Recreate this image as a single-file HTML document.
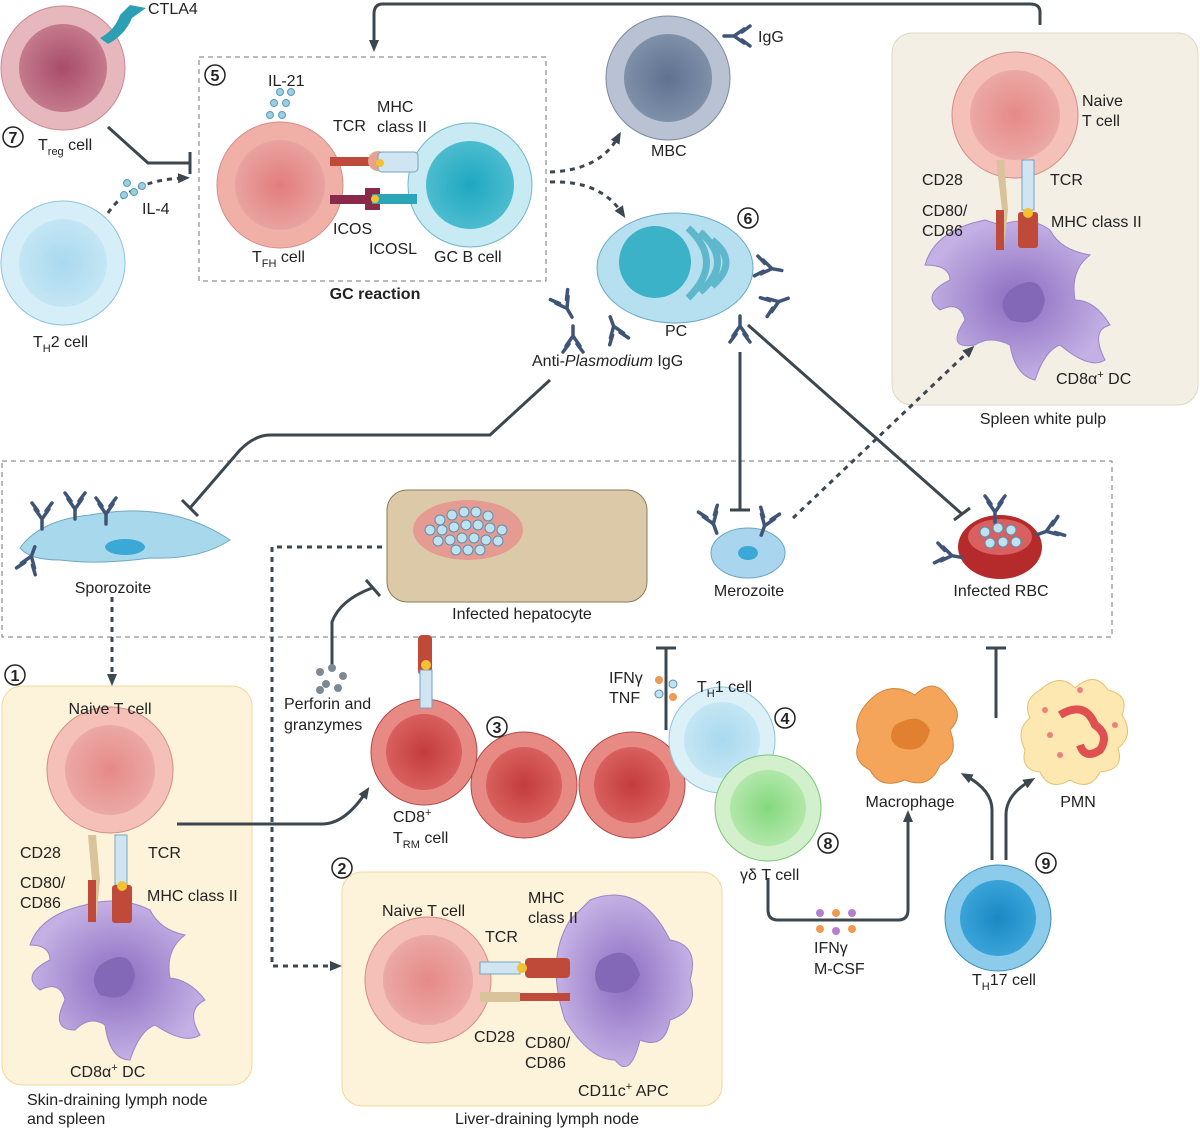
<!DOCTYPE html>
<html><head><meta charset="utf-8"><style>
html,body{margin:0;padding:0;background:#fff}
svg{display:block}
text{font-family:"Liberation Sans",sans-serif;font-size:16px;fill:#222}
.b{font-weight:bold}
.ln{stroke:#3d4750;stroke-width:3;fill:none}
.dl{stroke:#3d4750;stroke-width:3;fill:none;stroke-dasharray:5 5}
.num{fill:#fff;stroke:#222;stroke-width:1.5}
</style></head><body>
<svg width="1200" height="1129" viewBox="0 0 1200 1129" xmlns="http://www.w3.org/2000/svg">
<defs>
<marker id="ar" markerUnits="userSpaceOnUse" markerWidth="12" markerHeight="12" refX="6" refY="6" orient="auto"><path d="M0,1 L12,6 L0,11 z" fill="#3d4750"/></marker>
<radialGradient id="pink"><stop offset="0" stop-color="#e27c7c"/><stop offset="1" stop-color="#e9a3a0"/></radialGradient>
<radialGradient id="treg"><stop offset="0" stop-color="#a84c6c"/><stop offset="1" stop-color="#c47a8c"/></radialGradient>
<radialGradient id="lb"><stop offset="0" stop-color="#a9d9ee"/><stop offset="1" stop-color="#c4e6f4"/></radialGradient>
<radialGradient id="teal"><stop offset="0" stop-color="#1ea8c0"/><stop offset="1" stop-color="#4cbccf"/></radialGradient>
<radialGradient id="gray"><stop offset="0" stop-color="#5e7190"/><stop offset="1" stop-color="#7f90a8"/></radialGradient>
<radialGradient id="red"><stop offset="0" stop-color="#c43c3c"/><stop offset="1" stop-color="#d8605e"/></radialGradient>
<radialGradient id="grn"><stop offset="0" stop-color="#84d87e"/><stop offset="1" stop-color="#b2e8aa"/></radialGradient>
<radialGradient id="blu"><stop offset="0" stop-color="#1a88c4"/><stop offset="1" stop-color="#3aa4d8"/></radialGradient>
<radialGradient id="pur" cx="50%" cy="50%" r="50%"><stop offset="0" stop-color="#8a6cc0"/><stop offset="1" stop-color="#c4b0e4"/></radialGradient>
<g id="ab"><path d="M0,14 L0,4 L-7,-6 M0,4 L7,-6 M-4,-4 L-10,-12 M4,-4 L10,-12" stroke="#3f5578" stroke-width="3.5" fill="none" stroke-linecap="round"/></g>
</defs>

<rect x="892" y="33" width="306" height="372" rx="20" fill="#f3efe5" stroke="#e0d8c6"/>
<rect x="2" y="686" width="250" height="399" rx="20" fill="#fdf3db" stroke="#f3d898"/>
<rect x="342" y="872" width="380" height="234" rx="20" fill="#fdf3db" stroke="#f3d898"/>
<rect x="199" y="57" width="347" height="224" fill="none" stroke="#777" stroke-dasharray="5 4"/>
<rect x="2" y="461" width="1110" height="176" fill="none" stroke="#777" stroke-dasharray="5 4"/>

<path class="ln" d="M1040,25 V12 Q1040,4 1030,4 H383 Q374,4 374,14 V46" marker-end="url(#ar)"/>
<path class="ln" d="M108,127 L148,163 H190 M190,152 V174"/>
<path class="dl" d="M108,213 Q130,180 184,178" marker-end="url(#ar)"/>
<path class="dl" d="M550,172 Q600,170 618,137" marker-end="url(#ar)"/>
<path class="dl" d="M550,182 Q600,180 622,213" marker-end="url(#ar)"/>
<path class="ln" d="M550,380 L490,435 H270 Q255,435 240,450 L190,508 M182,500 L198,516"/>
<path class="ln" d="M740,352 V510 M730,510 H750"/>
<path class="ln" d="M748,325 L962,514 M954,520 L970,508"/>
<path class="dl" d="M793,518 L970,350" marker-end="url(#ar)"/>
<path class="dl" d="M112,597 V680" marker-end="url(#ar)"/>
<path class="dl" d="M382,547 H272 V966 H336" marker-end="url(#ar)"/>
<path class="ln" d="M332,665 V622 Q340,600 372,588 M366,580 L380,596"/>
<path class="ln" d="M177,824 H322 Q345,824 366,792" marker-end="url(#ar)"/>
<path class="ln" d="M666,730 V648 M656,648 H676"/>
<path class="ln" d="M996,718 V648 M986,648 H1006"/>
<path class="ln" d="M768,878 V910 Q768,920 778,920 H898 Q908,920 908,910 V816" marker-end="url(#ar)"/>
<path class="ln" d="M992,860 V810 Q992,790 966,776" marker-end="url(#ar)"/>
<path class="ln" d="M1006,860 V815 Q1006,795 1030,781" marker-end="url(#ar)"/>

<circle cx="63" cy="68" r="62" fill="#e6b7bd" stroke="#c98a94"/>
<circle cx="63" cy="68" r="44" fill="url(#treg)"/>
<path d="M100,38 Q115,30 120,15 L130,5 L146,8 L132,18 Q125,35 108,44 z" fill="#2d9fb5"/>
<circle cx="63" cy="263" r="62" fill="#d6eef8" stroke="#8fc3da"/>
<circle cx="63" cy="263" r="44" fill="url(#lb)"/>
<g fill="#9ccfe2" stroke="#5a9cb6"><circle cx="127" cy="183" r="3.5"/><circle cx="134" cy="192" r="3.5"/><circle cx="124" cy="195" r="3.5"/><circle cx="142" cy="186" r="3.5"/></g>

<circle cx="280" cy="185" r="63" fill="#f0b0a8" stroke="#d58c86"/>
<circle cx="280" cy="185" r="45" fill="url(#pink)"/>
<circle cx="470" cy="185" r="62" fill="#c8eaf2" stroke="#6fb8c8"/>
<circle cx="470" cy="185" r="44" fill="url(#teal)"/>
<g fill="#9ccfe2" stroke="#5a9cb6"><circle cx="280" cy="92" r="3.5"/><circle cx="291" cy="92" r="3.5"/><circle cx="274" cy="103" r="3.5"/><circle cx="286" cy="103" r="3.5"/><circle cx="270" cy="115" r="3.5"/><circle cx="282" cy="115" r="3.5"/></g>
<rect x="330" y="157" width="45" height="9" fill="#c04a3a"/><circle cx="378" cy="161" r="10" fill="#e3a48e"/>
<rect x="378" y="152" width="40" height="20" rx="4" fill="#cfe6f2" stroke="#7aa3bc"/>
<rect x="330" y="195" width="35" height="9" fill="#8a2a4a"/><rect x="365" y="188" width="15" height="22" fill="#8a2a4a"/>
<rect x="372" y="194" width="45" height="10" fill="#2aa6b8"/>
<circle cx="380" cy="163" r="4" fill="#f2c230"/><circle cx="375" cy="199" r="4" fill="#f2c230"/>

<circle cx="668" cy="78" r="62" fill="#b8c2d2" stroke="#7b8aa0"/>
<circle cx="668" cy="78" r="44" fill="url(#gray)"/>
<use href="#ab" transform="translate(738,36) rotate(90)"/>
<ellipse cx="675" cy="268" rx="78" ry="55" fill="#b6e0ef" stroke="#6aa9c6"/>
<circle cx="655" cy="262" r="36" fill="#3bb2c8"/>
<path d="M688,228 Q725,262 688,298 M700,232 Q735,262 700,292 M712,240 Q740,262 712,286" stroke="#5fb7cc" stroke-width="7" fill="none"/>
<use href="#ab" transform="translate(768,268) rotate(-80)"/>
<use href="#ab" transform="translate(775,303) rotate(-110)"/>
<use href="#ab" transform="translate(740,330) rotate(180)"/>
<use href="#ab" transform="translate(615,330) rotate(160)"/>
<use href="#ab" transform="translate(573,340) rotate(180)"/>
<use href="#ab" transform="translate(565,305) rotate(-30)"/>

<circle cx="1015" cy="115" r="63" fill="#f4c0b8" stroke="#d58c86"/>
<circle cx="1015" cy="115" r="45" fill="url(#pink)" opacity="0.8"/>
<path d="M985,220 Q935,230 925,265 Q950,265 950,280 Q920,295 940,310 Q960,300 965,320 Q945,350 975,345 Q990,335 1010,345 Q1015,375 1035,380 Q1045,350 1060,345 Q1090,370 1105,360 Q1090,330 1110,325 Q1095,300 1075,300 Q1070,270 1090,255 Q1060,250 1050,230 Q1030,215 1000,225 z" fill="url(#pur)" stroke="#9a86c8"/>
<path d="M1010,290 Q1040,270 1045,300 Q1040,330 1010,320 Q995,305 1010,290z" fill="#8468b8"/>
<path d="M996,160 L1002,210 L996,245 L1004,245 L1008,210 L1004,160z" fill="#d8c39a"/>
<rect x="996" y="210" width="8" height="40" fill="#c04a3a"/>
<rect x="1022" y="160" width="12" height="50" fill="#cfe6f2" stroke="#7aa3bc"/>
<rect x="1018" y="212" width="20" height="36" rx="3" fill="#c04a3a"/>
<circle cx="1028" cy="213" r="5" fill="#f2c230"/>

<path d="M20,548 Q40,520 90,515 Q170,500 230,540 Q200,560 150,558 Q100,565 60,560 Q30,560 20,548z" fill="#a8d8ec" stroke="#6ea9c4"/>
<ellipse cx="125" cy="547" rx="20" ry="8" fill="#3ca8d6"/>
<use href="#ab" transform="translate(42,515)"/><use href="#ab" transform="translate(75,505)"/><use href="#ab" transform="translate(106,510)"/><use href="#ab" transform="translate(30,560) rotate(200)"/>
<rect x="387" y="490" width="260" height="112" rx="20" fill="#dcc9a8" stroke="#8a7a5a"/>
<ellipse cx="468" cy="530" rx="55" ry="30" fill="#e59a92"/>
<g fill="#bfe2f0" stroke="#5a8fb0">
<circle cx="440" cy="520" r="5"/><circle cx="452" cy="515" r="5"/><circle cx="464" cy="512" r="5"/><circle cx="476" cy="512" r="5"/><circle cx="488" cy="516" r="5"/><circle cx="430" cy="530" r="5"/><circle cx="442" cy="530" r="5"/><circle cx="454" cy="527" r="5"/><circle cx="466" cy="525" r="5"/><circle cx="478" cy="525" r="5"/><circle cx="490" cy="528" r="5"/><circle cx="502" cy="530" r="5"/><circle cx="438" cy="541" r="5"/><circle cx="450" cy="540" r="5"/><circle cx="462" cy="538" r="5"/><circle cx="474" cy="538" r="5"/><circle cx="486" cy="540" r="5"/><circle cx="498" cy="541" r="5"/><circle cx="456" cy="550" r="5"/><circle cx="468" cy="550" r="5"/><circle cx="480" cy="550" r="5"/></g>
<ellipse cx="748" cy="553" rx="37" ry="25" fill="#a9d6ee" stroke="#6aa6c6"/>
<ellipse cx="748" cy="553" rx="10" ry="7" fill="#3ca8d6"/>
<use href="#ab" transform="translate(712,520) rotate(-20)"/><use href="#ab" transform="translate(766,522) rotate(20)"/>
<ellipse cx="1000" cy="547" rx="42" ry="32" fill="#b52a2a"/>
<ellipse cx="1000" cy="537" rx="32" ry="18" fill="#d86060"/>
<g fill="#bfe2f0" stroke="#5a8fb0"><circle cx="985" cy="532" r="5"/><circle cx="998" cy="528" r="5"/><circle cx="1011" cy="530" r="5"/><circle cx="990" cy="543" r="5"/><circle cx="1003" cy="542" r="5"/><circle cx="1016" cy="542" r="5"/></g>
<use href="#ab" transform="translate(995,508)"/><use href="#ab" transform="translate(1050,530) rotate(70)"/><use href="#ab" transform="translate(948,555) rotate(-80)"/>

<circle cx="110" cy="770" r="63" fill="#f4c0b8" stroke="#d58c86"/>
<circle cx="110" cy="770" r="45" fill="url(#pink)" opacity="0.8"/>
<path d="M85,905 Q40,915 30,945 Q50,945 50,960 Q20,975 40,990 Q60,980 65,1000 Q50,1030 75,1030 Q90,1015 105,1025 Q110,1060 130,1060 Q140,1030 155,1025 Q185,1045 200,1035 Q185,1010 205,1000 Q190,980 170,978 Q165,950 185,935 Q160,930 150,910 Q120,895 85,905z" fill="url(#pur)" stroke="#9a86c8"/>
<path d="M100,965 Q130,945 135,975 Q130,1005 100,995 Q88,980 100,965z" fill="#8468b8"/>
<path d="M88,835 L92,880 L88,920 L96,920 L100,880 L96,835z" fill="#d8c39a"/>
<rect x="88" y="880" width="8" height="42" fill="#c04a3a"/>
<rect x="115" y="835" width="12" height="50" fill="#cfe6f2" stroke="#7aa3bc"/>
<rect x="112" y="885" width="20" height="38" rx="3" fill="#c04a3a"/>
<circle cx="122" cy="886" r="5" fill="#f2c230"/>

<path d="M590,900 Q640,880 670,940 Q700,945 690,980 Q700,1010 670,1020 Q665,1050 640,1040 Q630,1080 615,1060 Q590,1060 565,1020 Q545,960 570,920z" fill="url(#pur)" stroke="#9a86c8"/>
<path d="M600,960 Q630,940 640,975 Q630,1000 600,990 Q590,975 600,960z" fill="#8468b8"/>
<circle cx="428" cy="980" r="63" fill="#f4c0b8" stroke="#d58c86"/>
<circle cx="428" cy="980" r="45" fill="url(#pink)" opacity="0.8"/>
<rect x="480" y="962" width="40" height="12" fill="#cfe6f2" stroke="#7aa3bc"/>
<rect x="525" y="958" width="45" height="20" rx="4" fill="#c04a3a"/>
<circle cx="522" cy="968" r="5" fill="#f2c230"/>
<rect x="480" y="992" width="40" height="10" fill="#d8c39a"/>
<rect x="520" y="993" width="50" height="8" fill="#c04a3a"/>

<circle cx="632" cy="785" r="53" fill="#e88a84" stroke="#b04848"/><circle cx="632" cy="785" r="38" fill="url(#red)"/>
<circle cx="524" cy="785" r="53" fill="#e88a84" stroke="#b04848"/><circle cx="524" cy="785" r="38" fill="url(#red)"/>
<circle cx="424" cy="752" r="53" fill="#e88a84" stroke="#b04848"/><circle cx="424" cy="752" r="38" fill="url(#red)"/>
<rect x="418" y="635" width="14" height="40" rx="4" fill="#c04a3a"/>
<rect x="420" y="670" width="12" height="38" fill="#cfe6f2" stroke="#7aa3bc"/>
<circle cx="426" cy="665" r="5" fill="#f2c230"/>
<circle cx="722" cy="740" r="53" fill="#dcf0f8" stroke="#8fc3da"/><circle cx="722" cy="740" r="38" fill="url(#lb)"/>
<circle cx="768" cy="808" r="53" fill="#d2f0cc" stroke="#7fc07a"/><circle cx="768" cy="808" r="38" fill="url(#grn)"/>
<circle cx="998" cy="918" r="53" fill="#8ccbea" stroke="#3c8fbb"/><circle cx="998" cy="918" r="38" fill="url(#blu)"/>
<g fill="#7c8a96"><circle cx="320" cy="672" r="4"/><circle cx="332" cy="668" r="4"/><circle cx="343" cy="676" r="4"/><circle cx="326" cy="684" r="4"/><circle cx="338" cy="688" r="4"/><circle cx="320" cy="690" r="4"/></g>
<g><circle cx="659" cy="680" r="4" fill="#ef9a50"/><circle cx="673" cy="684" r="4" fill="#bfe2f0" stroke="#5a8fb0"/><circle cx="659" cy="694" r="4" fill="#bfe2f0" stroke="#5a8fb0"/><circle cx="673" cy="697" r="4" fill="#ef9a50"/></g>
<g><circle cx="820" cy="913" r="4" fill="#b57fd0"/><circle cx="836" cy="913" r="4" fill="#ef9a50"/><circle cx="852" cy="913" r="4" fill="#b57fd0"/><circle cx="820" cy="929" r="4" fill="#ef9a50"/><circle cx="836" cy="931" r="4" fill="#b57fd0"/><circle cx="852" cy="929" r="4" fill="#ef9a50"/></g>
<path d="M870,700 Q890,680 915,695 Q935,675 950,700 Q965,715 950,730 Q960,755 940,765 Q930,790 905,780 Q880,790 870,770 Q850,760 860,740 Q850,720 870,700z" fill="#f4a55a" stroke="#d08840"/>
<path d="M895,725 Q920,710 930,730 Q925,755 900,748 Q885,740 895,725z" fill="#e08030"/>
<path d="M1040,690 Q1060,672 1075,688 Q1095,670 1108,690 Q1130,695 1122,715 Q1135,735 1118,748 Q1125,770 1100,772 Q1090,792 1070,780 Q1050,792 1040,772 Q1020,770 1025,750 Q1015,730 1030,718 Q1022,700 1040,690z" fill="#fce8b0" stroke="#e6c070"/>
<path d="M1060,715 Q1085,700 1095,725 Q1110,735 1100,750 Q1085,760 1080,745" stroke="#e05050" stroke-width="8" fill="none"/>
<g fill="#f08080"><circle cx="1050" cy="735" r="3"/><circle cx="1060" cy="755" r="3"/><circle cx="1115" cy="725" r="3"/><circle cx="1080" cy="690" r="3"/><circle cx="1045" cy="710" r="3"/></g>

<g><circle class="num" cx="13" cy="137" r="10"/><text x="13" y="143" text-anchor="middle" class="b">7</text>
<circle class="num" cx="215" cy="75" r="10"/><text x="215" y="81" text-anchor="middle" class="b">5</text>
<circle class="num" cx="748" cy="218" r="10"/><text x="748" y="224" text-anchor="middle" class="b">6</text>
<circle class="num" cx="15" cy="675" r="10"/><text x="15" y="681" text-anchor="middle" class="b">1</text>
<circle class="num" cx="342" cy="868" r="10"/><text x="342" y="874" text-anchor="middle" class="b">2</text>
<circle class="num" cx="497" cy="727" r="10"/><text x="497" y="733" text-anchor="middle" class="b">3</text>
<circle class="num" cx="785" cy="718" r="10"/><text x="785" y="724" text-anchor="middle" class="b">4</text>
<circle class="num" cx="828" cy="843" r="10"/><text x="828" y="849" text-anchor="middle" class="b">8</text>
<circle class="num" cx="1046" cy="863" r="10"/><text x="1046" y="869" text-anchor="middle" class="b">9</text></g>

<text x="148" y="14">CTLA4</text>
<text x="38" y="150">T<tspan font-size="11" dy="5">reg</tspan><tspan dy="-5"> cell</tspan></text>
<text x="142" y="214">IL-4</text>
<text x="33" y="347">T<tspan font-size="11" dy="5">H</tspan><tspan dy="-5">2 cell</tspan></text>
<text x="268" y="86">IL-21</text>
<text x="333" y="131">TCR</text>
<text x="377" y="112">MHC</text><text x="377" y="132">class II</text>
<text x="333" y="234">ICOS</text><text x="369" y="254">ICOSL</text>
<text x="252" y="262">T<tspan font-size="11" dy="5">FH</tspan><tspan dy="-5"> cell</tspan></text>
<text x="434" y="262">GC B cell</text>
<text x="375" y="299" text-anchor="middle" class="b">GC reaction</text>
<text x="758" y="42">IgG</text>
<text x="651" y="156">MBC</text>
<text x="665" y="336">PC</text>
<text x="532" y="366">Anti-<tspan font-style="italic">Plasmodium</tspan> IgG</text>
<text x="1082" y="106">Naive</text><text x="1082" y="126">T cell</text>
<text x="922" y="185">CD28</text><text x="1050" y="185">TCR</text>
<text x="922" y="216">CD80/</text><text x="922" y="236">CD86</text>
<text x="1051" y="227">MHC class II</text>
<text x="1056" y="384">CD8α<tspan font-size="11" dy="-6">+</tspan><tspan dy="6"> DC</tspan></text>
<text x="1043" y="424" text-anchor="middle">Spleen white pulp</text>
<text x="113" y="593" text-anchor="middle">Sporozoite</text>
<text x="522" y="619" text-anchor="middle">Infected hepatocyte</text>
<text x="749" y="596" text-anchor="middle">Merozoite</text>
<text x="1001" y="596" text-anchor="middle">Infected RBC</text>
<text x="110" y="714" text-anchor="middle">Naive T cell</text>
<text x="20" y="858">CD28</text><text x="148" y="858">TCR</text>
<text x="20" y="888">CD80/</text><text x="20" y="908">CD86</text>
<text x="147" y="901">MHC class II</text>
<text x="70" y="1077">CD8α<tspan font-size="11" dy="-6">+</tspan><tspan dy="6"> DC</tspan></text>
<text x="27" y="1105">Skin-draining lymph node</text><text x="27" y="1124">and spleen</text>
<text x="284" y="709">Perforin and</text><text x="284" y="730">granzymes</text>
<text x="393" y="822">CD8<tspan font-size="11" dy="-6">+</tspan></text>
<text x="393" y="843">T<tspan font-size="11" dy="5">RM</tspan><tspan dy="-5"> cell</tspan></text>
<text x="609" y="683">IFNγ</text><text x="609" y="703">TNF</text>
<text x="697" y="692">T<tspan font-size="11" dy="5">H</tspan><tspan dy="-5">1 cell</tspan></text>
<text x="740" y="880">γδ T cell</text>
<text x="814" y="953">IFNγ</text><text x="814" y="974">M-CSF</text>
<text x="910" y="807" text-anchor="middle">Macrophage</text>
<text x="1078" y="807" text-anchor="middle">PMN</text>
<text x="972" y="985">T<tspan font-size="11" dy="5">H</tspan><tspan dy="-5">17 cell</tspan></text>
<text x="382" y="916">Naive T cell</text>
<text x="485" y="942">TCR</text>
<text x="528" y="903">MHC</text><text x="528" y="923">class II</text>
<text x="474" y="1042">CD28</text>
<text x="525" y="1048">CD80/</text><text x="525" y="1068">CD86</text>
<text x="578" y="1096">CD11c<tspan font-size="11" dy="-6">+</tspan><tspan dy="6"> APC</tspan></text>
<text x="547" y="1124" text-anchor="middle">Liver-draining lymph node</text>
</svg>
</body></html>
